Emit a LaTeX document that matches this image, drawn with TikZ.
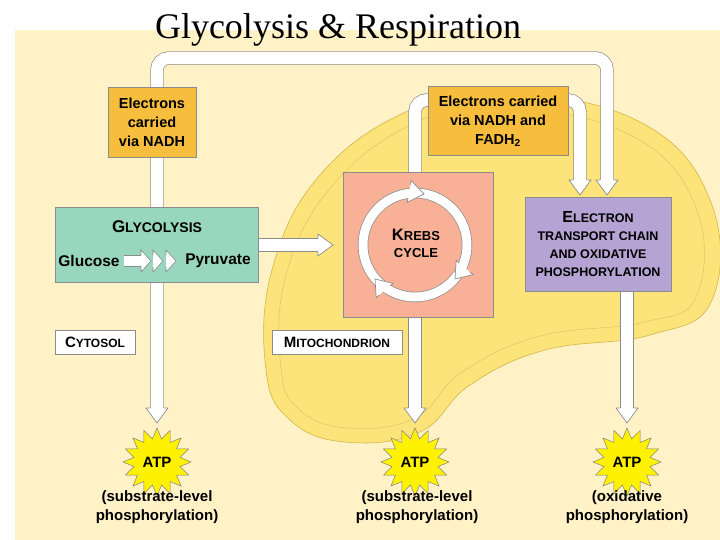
\documentclass[tikz,border=0pt]{standalone}
\usepackage{fontspec}
\setmainfont{Liberation Sans}
\newfontfamily\titlefont{Liberation Serif}
\usetikzlibrary{shapes.geometric}
\definecolor{cream}{HTML}{FFF2C6}
\definecolor{mito}{HTML}{FDE47A}
\definecolor{mitoline}{HTML}{D2B548}
\definecolor{orng}{HTML}{F7BE3E}
\definecolor{teal}{HTML}{98D6BF}
\definecolor{salmon}{HTML}{F8B097}
\definecolor{lav}{HTML}{B4A3D3}
\definecolor{staryel}{HTML}{FFF200}
\tikzset{
 box/.style={draw=black!45, line width=0.6pt, align=center, inner sep=0pt, font=\bfseries\fontsize{14.5}{19}\selectfont},
 shaft/.style={draw=black!45, line width=0.7pt, double=white, double distance=12pt, rounded corners=12pt},
 hd/.pic={\fill[white] (0,0)--(-15,11)--(-15,-11)--cycle;
   \draw[black!45, line width=0.7pt, line join=miter] (-15,7)--(-15,11)--(0,0)--(-15,-11)--(-15,-7);},
 smhd/.pic={\fill[white] (0,0)--(-10,11)--(-10,-11)--cycle;
   \draw[black!45, line width=0.6pt] (-10,6)--(-10,11)--(0,0)--(-10,-11)--(-10,-6);},
 burst/.style={star, star points=16, star point ratio=1.45, minimum size=68pt, fill=staryel, draw=black!50, line width=0.5pt, inner sep=0pt, font=\bfseries\fontsize{15}{17}\selectfont},
 lbl/.style={align=center, font=\bfseries\fontsize{15}{19}\selectfont},
}
\begin{document}
\begin{tikzpicture}[x=1pt,y=-1pt]
\useasboundingbox (0,0) rectangle (720,540);
\fill[white] (0,0) rectangle (720,540);
\fill[cream] (15,30) rectangle (720,540);
\node[font=\titlefont\fontsize{36}{40}\selectfont] (title) at (338,30) {Glycolysis \& Respiration};
% mitochondrion
\draw[mitoline, fill=mito, line width=0.6pt] plot[smooth cycle, tension=0.7] coordinates
 {(505,92) (640,122) (710,200) (712,300) (650,335) (545,350) (470,385) (420,432) (345,442) (290,420) (266,370) (272,270) (320,175) (410,110)};
\draw[mitoline!80, line width=0.5pt] plot[smooth cycle, tension=0.7] coordinates
 {(505,107) (630,135) (695,205) (697,295) (645,322) (540,336) (462,372) (415,418) (348,428) (300,410) (281,368) (286,275) (332,186) (415,123)};
% shafts
\draw[shaft] (157,408) -- (157,58) -- (607,58) -- (607,180);
\draw[shaft] (415,172) -- (415,100) -- (580,100) -- (580,180);
\draw[shaft] (415,317) -- (415,408);
\draw[shaft] (627,291) -- (627,408);
\draw[shaft] (258,245) -- (318,245);
\pic[rotate=-90] at (157,423) {hd};
\pic[rotate=-90] at (607,195) {hd};
\pic[rotate=-90] at (580,195) {hd};
\pic[rotate=-90] at (415,423) {hd};
\pic[rotate=-90] at (627,423) {hd};
\pic at (333,245) {hd};
% boxes
\node[box, fill=orng, minimum width=88pt, minimum height=70pt] (nadh1) at (152,122) {Electrons\\carried\\via NADH};
\node[box, fill=orng, minimum width=140pt, minimum height=69pt] (nadh2) at (498,121) {Electrons carried\\via NADH and\\FADH\textsubscript{2}};
\node[box, fill=teal, minimum width=203pt, minimum height=75pt] (gly) at (156.5,244.5) {};
\node[font=\bfseries\fontsize{14}{15}\selectfont] (glyt) at (157,227) {{\fontsize{17}{17}\selectfont G}LYCOLYSIS};
\node[font=\bfseries\fontsize{15.5}{16}\selectfont] (glu) at (89,261) {Glucose};
\node[font=\bfseries\fontsize{15.5}{16}\selectfont] (pyr) at (218,261) {Pyruvate};
\draw[black!45, line width=0.6pt, double=white, double distance=10pt] (124,261) -- (141,261);
\pic at (151,261) {smhd};
\pic at (163,261) {smhd};
\pic at (176,261) {smhd};
\node[box, fill=salmon, minimum width=150pt, minimum height=145pt] (krebs) at (418,244.5) {};
\draw[black!45, line width=0.7pt, double=white, double distance=9pt] (415,245) circle (52);
\pic[rotate=-10] at (424,194) {hd};
\pic[rotate=-130] at (455,279) {hd};
\pic[rotate=-230] at (375,279) {hd};
\node[font=\bfseries\fontsize{13}{17}\selectfont, align=center] (krebst) at (416,243) {{\fontsize{16.5}{16}\selectfont K}REBS\\CYCLE};
\node[box, fill=lav, minimum width=146pt, minimum height=94pt, font=\bfseries\fontsize{12.5}{18}\selectfont] (etc) at (598,244) {{\fontsize{16}{15}\selectfont E}LECTRON\\TRANSPORT CHAIN\\AND OXIDATIVE\\PHOSPHORYLATION};
\node[box, fill=white, minimum width=80pt, minimum height=24pt, font=\bfseries\fontsize{12}{13}\selectfont] (cyto) at (95,342) {{\fontsize{15}{14}\selectfont C}YTOSOL};
\node[box, fill=white, minimum width=130pt, minimum height=24pt, font=\bfseries\fontsize{12}{13}\selectfont] (mitol) at (337,342) {{\fontsize{15}{14}\selectfont M}ITOCHONDRION};
% ATP
\node[burst] (atp1) at (157,462) {ATP};
\node[burst] (atp2) at (415,462) {ATP};
\node[burst] (atp3) at (627,462) {ATP};
\node[lbl] (l1) at (157,507) {(substrate-level\\phosphorylation)};
\node[lbl] (l2) at (417,507) {(substrate-level\\phosphorylation)};
\node[lbl] (l3) at (627,507) {(oxidative\\phosphorylation)};
\end{tikzpicture}
\end{document}
